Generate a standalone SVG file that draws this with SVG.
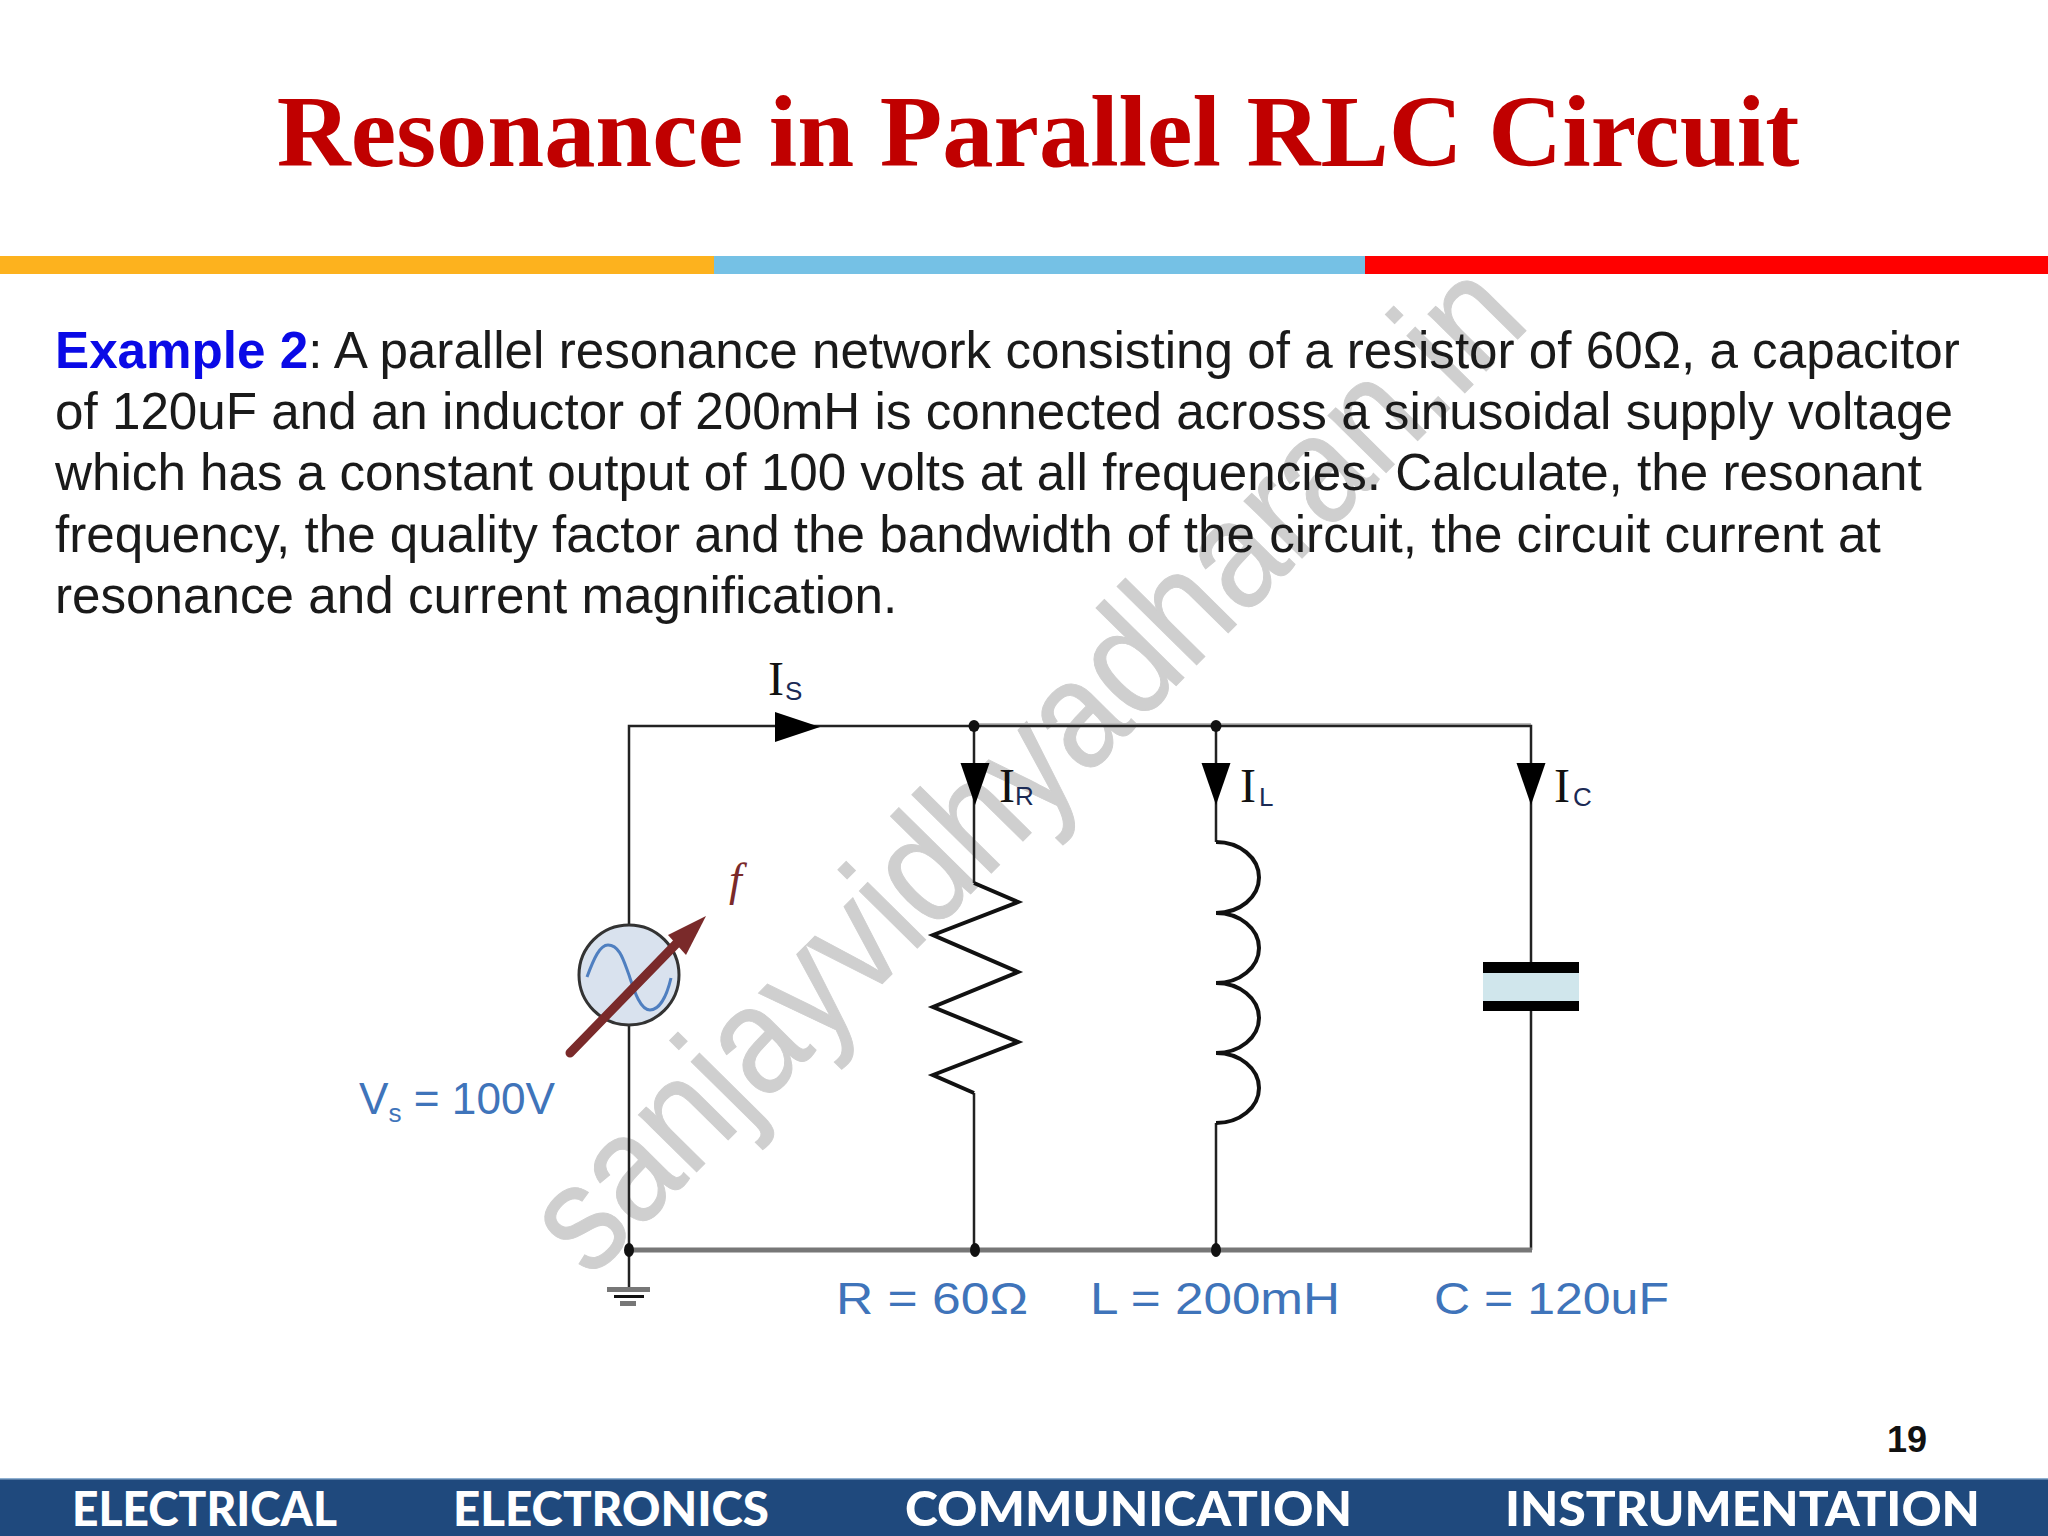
<svg xmlns="http://www.w3.org/2000/svg" width="2048" height="1536" viewBox="0 0 2048 1536">
<style>
.body{font-family:"Liberation Sans",Arial,sans-serif;font-size:51.200px;fill:#1a1a1a}
.wire{fill:none;stroke:#222;stroke-width:2.5}
.sym{fill:none;stroke:#111;stroke-width:4}
.val{font-family:"Liberation Sans",Arial,sans-serif;font-size:44px;fill:#3f74ba}
.cur{font-family:"Liberation Serif",serif;font-size:48px;fill:#111}
.sub{font-family:"Liberation Sans",sans-serif;font-size:26px;fill:#1b2a55}
.foot{font-family:"Lato","Liberation Sans",sans-serif;font-weight:900;font-size:48px;fill:#fff}
</style>
<defs><path id="ah" d="M-14.500 -42H14.500L0 0Z" fill="#000"/></defs>
<rect width="2048" height="1536" fill="#fff"/>
<text id="watermark" transform="translate(590 1280) rotate(-45.400)" font-family="Liberation Sans,sans-serif" font-size="154" fill="#cfcfcf" stroke="#cfcfcf" stroke-width="1" textLength="1342" lengthAdjust="spacingAndGlyphs">sanjayvidhyadharan.in</text>
<text id="title" x="1038" y="166" text-anchor="middle" font-family="Liberation Serif,serif" font-weight="700" font-size="102.400" fill="#c00000">Resonance in Parallel RLC Circuit</text>
<g id="bar"><rect y="256" width="714" height="18" fill="#fdb21e"/><rect x="714" y="256" width="651" height="18" fill="#75c1e5"/><rect x="1365" y="256" width="683" height="18" fill="#f00"/></g>
<g id="problem">
<text class="body" x="55" y="368"><tspan font-weight="700" fill="#0a0ae6">Example 2</tspan>: A parallel resonance network consisting of a resistor of 60Ω, a capacitor</text>
<text class="body" x="55" y="429">of 120uF and an inductor of 200mH is connected across a sinusoidal supply voltage</text>
<text class="body" x="55" y="490">which has a constant output of 100 volts at all frequencies. Calculate, the resonant</text>
<text class="body" x="55" y="552">frequency, the quality factor and the bandwidth of the circuit, the circuit current at</text>
<text class="body" x="55" y="613">resonance and current magnification.</text>
</g>
<g id="connectors">
<path d="M974 724H1531" fill="none" stroke="#bbb" stroke-width="2"/>
<path class="wire" d="M629 925V726H1531V962M629 1025V1287M974 726V883M974 1093V1250M1216 726V842M1216 1123V1250M1531 1011V1250"/>
<path d="M627 1250H1532" fill="none" stroke="#777" stroke-width="5"/>
<path d="M775 712L820 727L775 742Z"/>
<use href="#ah" x="975" y="805"/><use href="#ah" x="1216" y="805"/><use href="#ah" x="1531" y="805"/>
<g fill="#111"><ellipse cx="974" cy="726" rx="5.500" ry="6"/><ellipse cx="1216" cy="726" rx="5.500" ry="6"/><ellipse cx="629" cy="1250" rx="5" ry="7"/><ellipse cx="975" cy="1250" rx="5" ry="7"/><ellipse cx="1216" cy="1250" rx="5" ry="7"/></g>
</g>
<g id="source">
<circle cx="629" cy="975" r="50" fill="#d9e2ee" stroke="#333" stroke-width="3"/>
<path d="M587 977C594 958 600 945 608 945C620 945 624 962 629 975C634 990 640 1010 650 1010C660 1010 667 995 671 978" fill="none" stroke="#4f7fc0" stroke-width="3"/>
<path d="M570 1053L676 944" stroke="#7a2a2a" stroke-width="9" stroke-linecap="round" fill="none"/>
<path d="M706 916L686 955L668 935Z" fill="#7a2a2a"/>
<text x="729" y="895" font-family="Liberation Serif,serif" font-style="italic" font-size="46" fill="#7a2a2a">f</text>
<text class="val" x="359" y="1114" textLength="196" lengthAdjust="spacingAndGlyphs">V<tspan font-size="26" dy="8">s</tspan><tspan dy="-8"> = 100V</tspan></text>
</g>
<g id="current-s"><text class="cur" x="768" y="695">I</text><text class="sub" x="785" y="700">S</text></g>
<g id="resistor">
<path class="sym" d="M974 883L1018 902L933 935L1018 972L933 1007L1018 1042L933 1075L974 1093"/>
<text class="cur" x="999" y="802">I</text><text class="sub" x="1015" y="805">R</text>
<text class="val" x="836" y="1314" textLength="192" lengthAdjust="spacingAndGlyphs">R = 60Ω</text>
</g>
<g id="inductor">
<path class="sym" d="M1216 842A43 35.500 0 0 1 1216 913A43 35 0 0 1 1216 983A43 35 0 0 1 1216 1053A43 35 0 0 1 1216 1123"/>
<text class="cur" x="1240" y="802">I</text><text class="sub" x="1259" y="806">L</text>
<text class="val" x="1090" y="1314" textLength="250" lengthAdjust="spacingAndGlyphs">L = 200mH</text>
</g>
<g id="capacitor">
<rect x="1483" y="973" width="96" height="28" fill="#d0e6ec"/>
<rect x="1483" y="962" width="96" height="11" fill="#000"/><rect x="1483" y="1001" width="96" height="10" fill="#000"/>
<text class="cur" x="1554" y="802">I</text><text class="sub" x="1573" y="806">C</text>
<text class="val" x="1434" y="1314" textLength="235" lengthAdjust="spacingAndGlyphs">C = 120uF</text>
</g>
<g id="ground"><rect x="607" y="1287" width="43" height="5" fill="#777"/><rect x="614" y="1295" width="30" height="3" fill="#111"/><rect x="620" y="1301" width="16" height="5" fill="#777"/></g>
<text id="page" x="1887" y="1452" font-family="Liberation Sans,sans-serif" font-weight="700" font-size="36" fill="#111">19</text>
<g id="footer">
<rect y="1478" width="2048" height="58" fill="#1f497d"/><rect y="1478" width="2048" height="1.500" fill="#8fb0d0"/>
<text class="foot" x="72" y="1526" textLength="265" lengthAdjust="spacingAndGlyphs">ELECTRICAL</text>
<text class="foot" x="453" y="1526" textLength="316" lengthAdjust="spacingAndGlyphs">ELECTRONICS</text>
<text class="foot" x="905" y="1526" textLength="447" lengthAdjust="spacingAndGlyphs">COMMUNICATION</text>
<text class="foot" x="1505" y="1526" textLength="475" lengthAdjust="spacingAndGlyphs">INSTRUMENTATION</text>
</g>
</svg>
